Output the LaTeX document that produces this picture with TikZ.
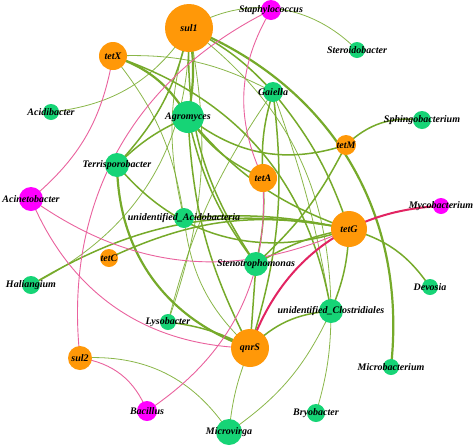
\documentclass[tikz,border=0pt]{standalone}
\usepackage{fontspec}
\setmainfont{Liberation Serif}
\usetikzlibrary{backgrounds}
\definecolor{orng}{RGB}{255,152,8}
\definecolor{grn}{RGB}{22,212,118}
\definecolor{mag}{RGB}{255,0,255}
\definecolor{ge}{RGB}{118,170,42}
\definecolor{pe}{RGB}{234,98,158}
\definecolor{pk}{RGB}{226,36,98}
\begin{document}
\begin{tikzpicture}[x=1pt,y=1pt,
 nd/.style={circle,draw=none,inner sep=0pt,minimum size=#1},
 gene/.style={nd=#1,fill=orng},
 bac/.style={nd=#1,fill=grn},
 neg/.style={nd=#1,fill=mag},
 lb/.style={font=\bfseries\itshape\fontsize{10}{12}\selectfont,text=black,inner sep=0pt},
 ethin/.style={draw=ge,line width=0.8pt,opacity=0.85},
 emed/.style={draw=ge,line width=1.5pt},
 ethick/.style={draw=ge,line width=2.2pt},
 pthin/.style={draw=pe,line width=0.9pt},
 pthick/.style={draw=pk,line width=2pt}]
\useasboundingbox (0,0) rectangle (474,-445);
% nodes
\node[gene=48,label={[lb]center:sul1}] (sul1) at (189,-28) {};
\node[gene=28,label={[lb]center:tetX}] (tetX) at (113,-56) {};
\node[neg=20,label={[lb]center:Staphylococcus}] (staph) at (271,-10) {};
\node[bac=16,label={[lb]center:Steroidobacter}] (stero) at (357,-50) {};
\node[bac=16,label={[lb]center:Acidibacter}] (acidi) at (51,-112) {};
\node[bac=32,label={[lb]center:Agromyces}] (agro) at (188,-117) {};
\node[bac=20,label={[lb]center:Gaiella}] (gaie) at (273,-92) {};
\node[bac=18,label={[lb]center:Sphingobacterium}] (sphi) at (422,-120) {};
\node[gene=20,label={[lb]center:tetM}] (tetM) at (346,-145) {};
\node[bac=24,label={[lb]center:Terrisporobacter}] (terr) at (117,-165) {};
\node[gene=28,label={[lb]center:tetA}] (tetA) at (263,-178) {};
\node[neg=24,label={[lb]center:Acinetobacter}] (acin) at (31,-199) {};
\node[bac=20,label={[lb]center:unidentified\_Acidobacteria}] (uacid) at (184,-218) {};
\node[gene=36,label={[lb]center:tetG}] (tetG) at (349,-229) {};
\node[neg=16,label={[lb]center:Mycobacterium}] (myco) at (441,-206) {};
\node[gene=18,label={[lb]center:tetC}] (tetC) at (109,-258) {};
\node[bac=24,label={[lb]center:Stenotrophomonas}] (steno) at (256,-264) {};
\node[bac=18,label={[lb]center:Haliangium}] (hali) at (31,-285) {};
\node[bac=16,label={[lb]center:Devosia}] (devo) at (430,-287) {};
\node[bac=24,label={[lb]center:unidentified\_Clostridiales}] (uclos) at (331,-311) {};
\node[bac=16,label={[lb]center:Lysobacter}] (lyso) at (168,-322) {};
\node[gene=38,label={[lb]center:qnrS}] (qnrS) at (250,-348) {};
\node[bac=16,label={[lb]center:Microbacterium}] (micb) at (391,-367) {};
\node[gene=24,label={[lb]center:sul2}] (sul2) at (80,-358) {};
\node[neg=20,label={[lb]center:Bacillus}] (baci) at (147,-411) {};
\node[bac=18,label={[lb]center:Bryobacter}] (bryo) at (316,-413) {};
\node[bac=26,label={[lb]center:Microvirga}] (mvir) at (229,-432) {};
% edges
\begin{scope}[on background layer]
\fill[white] (0,0) rectangle (474,-445);
\draw[ethin] (sul1.center) to[bend left=38] (stero.center);
\draw[ethin] (sul1.center) to[bend left=25] (acidi.center);
\draw[ethin] (sul1.center) to[bend left=32] (hali.center);
\draw[ethick] (sul1.center) to[bend left=10] (agro.center);
\draw[emed] (sul1.center) to[bend left=15] (terr.center);
\draw[ethin] (sul1.center) to[bend right=15] (uacid.center);
\draw[emed] (sul1.center) to[bend right=18] (steno.center);
\draw[ethin] (sul1.center) to[bend left=15] (lyso.center);
\draw[ethick] (sul1.center) to[bend left=37] (micb.center);
\draw[ethin] (sul1.center) to[bend left=26] (uclos.center);
\draw[emed] (sul1.center) to[bend left=10] (gaie.center);
\draw[ethick] (tetX.center) to[bend left=20] (agro.center);
\draw[emed] (tetX.center) to[bend left=31] (uclos.center);
\draw[ethin] (tetX.center) to[bend left=15] (uacid.center);
\draw[ethin] (tetX.center) to[bend left=15] (gaie.center);
\draw[emed] (sphi.center) to[bend right=25] (tetM.center);
\draw[emed] (agro.center) to[bend right=28] (tetM.center);
\draw[emed] (tetM.center) to[bend left=10] (steno.center);
\draw[emed] (agro.center) to[bend right=15] (tetA.center);
\draw[emed] (tetA.center) to[bend left=8] (steno.center);
\draw[emed] (gaie.center) to[bend right=10] (tetA.center);
\draw[emed] (tetG.center) to[bend left=20] (devo.center);
\draw[emed] (uacid.center) to[bend left=8] (tetG.center);
\draw[emed] (terr.center) to[bend right=35] (tetG.center);
\draw[emed] (agro.center) to[bend right=15] (tetG.center);
\draw[emed] (gaie.center) to[bend left=10] (tetG.center);
\draw[emed] (steno.center) to[bend left=10] (tetG.center);
\draw[emed] (tetG.center) to[bend left=10] (uclos.center);
\draw[emed] (tetC.center) to[bend left=18] (tetG.center);
\draw[emed] (hali.center) to[bend left=21] (tetG.center);
\draw[emed] (agro.center) to[bend right=12] (qnrS.center);
\draw[emed] (gaie.center) to[bend left=12] (qnrS.center);
\draw[ethin] (gaie.center) to[bend right=10] (lyso.center);
\draw[ethick] (terr.center) to[bend right=35] (qnrS.center);
\draw[ethin] (uacid.center) to[bend right=20] (qnrS.center);
\draw[emed] (qnrS.center) to[bend left=20] (uclos.center);
\draw[emed] (qnrS.center) to (steno.center);
\draw[ethin] (qnrS.center) to[bend right=8] (mvir.center);
\draw[emed] (lyso.center) to[bend left=10] (qnrS.center);
\draw[ethin] (sul2.center) to[bend left=30] (mvir.center);
\draw[ethin] (uclos.center) to[bend left=8] (bryo.center);
\draw[ethin] (uclos.center) to[bend left=15] (mvir.center);
\draw[ethin] (gaie.center) to[bend left=5] (uclos.center);
\draw[emed] (agro.center) to[bend right=12] (steno.center);
\draw[emed] (terr.center) to[bend left=10] (agro.center);
% negative (pink) edges
\draw[pthin] (staph.center) to[bend right=35] (sul2.center);
\draw[pthin] (staph.center) to[bend right=28] (tetA.center);
\draw[pthin] (acin.center) to[bend right=20] (tetX.center);
\draw[pthin] (acin.center) to[bend right=30] (tetG.center);
\draw[pthin] (acin.center) to[bend right=33] (qnrS.center);
\draw[pthin] (sul2.center) to[bend left=30] (baci.center);
\draw[pthin] (baci.center) to[bend right=30] (tetA.center);
\draw[pthick] (myco.center) to[bend right=34] (qnrS.center);
\end{scope}
\end{tikzpicture}
\end{document}
